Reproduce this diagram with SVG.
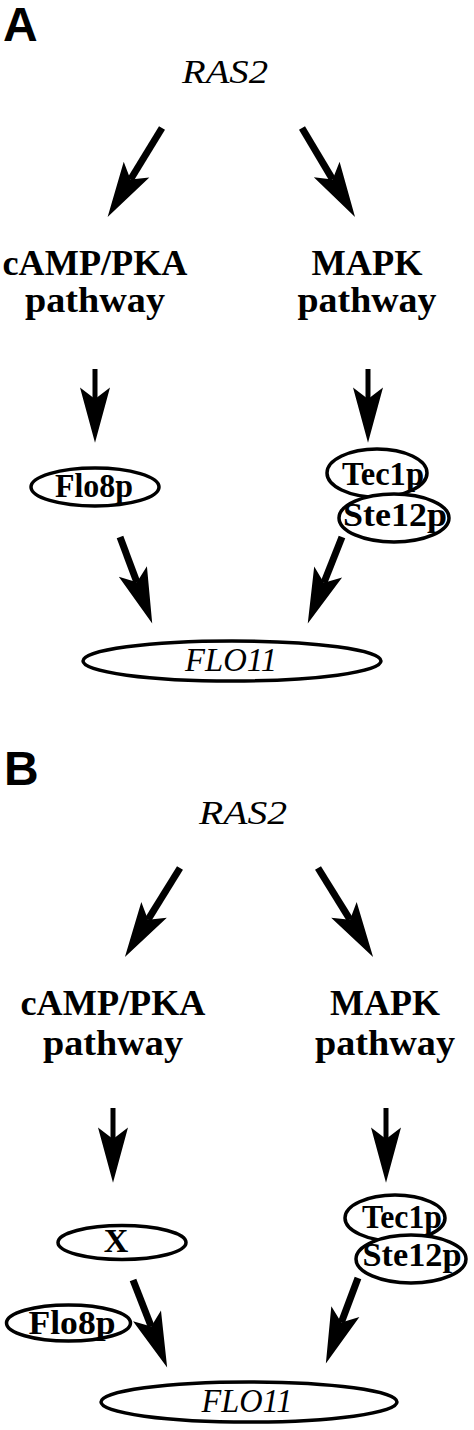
<svg xmlns="http://www.w3.org/2000/svg" width="474" height="1430" viewBox="0 0 474 1430">
<style>
.panel{font-family:"Liberation Sans",Arial,sans-serif;font-weight:bold;font-size:48px;fill:#000}
.gene{font-family:"Liberation Serif","Times New Roman",serif;font-style:italic;font-size:33px;fill:#000;text-anchor:middle}
.path{font-family:"Liberation Serif","Times New Roman",serif;font-weight:bold;font-size:35px;fill:#000;text-anchor:middle}
.prot{font-family:"Liberation Serif","Times New Roman",serif;font-weight:bold;font-size:34px;fill:#000;text-anchor:middle}
.ell{fill:#fff;stroke:#000;stroke-width:3.5}
.big{stroke:#000;stroke-width:7;fill:none;marker-end:url(#ah)}
.small{stroke:#000;stroke-width:5;fill:none;marker-end:url(#ah)}
</style>
<defs>
<marker id="ah" markerUnits="userSpaceOnUse" orient="auto" refX="0" refY="0" markerWidth="60" markerHeight="40" viewBox="-12 -15 52 30" overflow="visible">
<path d="M-10,-13 L38,0 L-10,13 L0,0 Z" fill="#000"/>
</marker>
</defs>
<rect width="474" height="1430" fill="#fff"/>

<text class="panel" x="3" y="41">A</text>
<text class="panel" x="4" y="785">B</text>

<g id="connectors">
<line class="big" x1="162" y1="128" x2="130.5" y2="179.5"/>
<line class="big" x1="302" y1="128" x2="332.6" y2="179.4"/>
<line class="small" x1="95" y1="369" x2="95" y2="399"/>
<line class="small" x1="368" y1="369" x2="368" y2="399"/>
<line class="big" x1="120" y1="537" x2="136.9" y2="582.3"/>
<line class="big" x1="342" y1="537" x2="323.9" y2="582.7"/>

<line class="big" x1="180" y1="868" x2="148" y2="919.7"/>
<line class="big" x1="318" y1="868" x2="350" y2="919.7"/>
<line class="small" x1="113" y1="1108" x2="113" y2="1139"/>
<line class="small" x1="386" y1="1108" x2="386" y2="1139"/>
<line class="big" x1="133" y1="1280" x2="151.2" y2="1326.6"/>
<line class="big" x1="358" y1="1278" x2="341.3" y2="1322.4"/>
</g>

<g id="a-ras2"><text class="gene" x="225" y="83" textLength="86" lengthAdjust="spacingAndGlyphs">RAS2</text></g>
<g id="a-camp"><text class="path" x="95" y="275" textLength="185" lengthAdjust="spacingAndGlyphs">cAMP/PKA</text><text class="path" x="95" y="312" textLength="140" lengthAdjust="spacingAndGlyphs">pathway</text></g>
<g id="a-mapk"><text class="path" x="367" y="275" textLength="111" lengthAdjust="spacingAndGlyphs">MAPK</text><text class="path" x="367" y="312" textLength="139" lengthAdjust="spacingAndGlyphs">pathway</text></g>
<g id="a-flo8p"><ellipse class="ell" cx="95" cy="487" rx="64" ry="19"/><text class="prot" x="94" y="497" textLength="78" lengthAdjust="spacingAndGlyphs">Flo8p</text></g>
<g id="a-tec1p"><ellipse class="ell" cx="377" cy="473" rx="50" ry="24"/><text class="prot" x="383" y="485" textLength="82" lengthAdjust="spacingAndGlyphs">Tec1p</text></g>
<g id="a-ste12p"><ellipse class="ell" cx="394" cy="518" rx="55" ry="24"/><text class="prot" x="395" y="526" textLength="104" lengthAdjust="spacingAndGlyphs">Ste12p</text></g>
<g id="a-flo11"><ellipse class="ell" cx="232" cy="661" rx="149" ry="20"/><text class="gene" x="231" y="671" textLength="92" lengthAdjust="spacingAndGlyphs">FLO11</text></g>

<g id="b-ras2"><text class="gene" x="243" y="824" textLength="88" lengthAdjust="spacingAndGlyphs">RAS2</text></g>
<g id="b-camp"><text class="path" x="113" y="1015" textLength="185" lengthAdjust="spacingAndGlyphs">cAMP/PKA</text><text class="path" x="113" y="1055" textLength="140" lengthAdjust="spacingAndGlyphs">pathway</text></g>
<g id="b-mapk"><text class="path" x="385" y="1015" textLength="110" lengthAdjust="spacingAndGlyphs">MAPK</text><text class="path" x="385" y="1055" textLength="140" lengthAdjust="spacingAndGlyphs">pathway</text></g>
<g id="b-x"><ellipse class="ell" cx="122" cy="1242.5" rx="64" ry="17"/><text class="prot" x="116" y="1252">X</text></g>
<g id="b-flo8p"><ellipse class="ell" cx="68.5" cy="1323" rx="62" ry="18"/><text class="prot" x="72" y="1334" textLength="87" lengthAdjust="spacingAndGlyphs">Flo8p</text></g>
<g id="b-tec1p"><ellipse class="ell" cx="395" cy="1218" rx="50" ry="23"/><text class="prot" x="402" y="1228" textLength="80" lengthAdjust="spacingAndGlyphs">Tec1p</text></g>
<g id="b-ste12p"><ellipse class="ell" cx="411" cy="1259" rx="55" ry="24"/><text class="prot" x="412" y="1266" textLength="99" lengthAdjust="spacingAndGlyphs">Ste12p</text></g>
<g id="b-flo11"><ellipse class="ell" cx="249" cy="1402" rx="148" ry="20"/><text class="gene" x="247" y="1412" textLength="91" lengthAdjust="spacingAndGlyphs">FLO11</text></g>
</svg>
